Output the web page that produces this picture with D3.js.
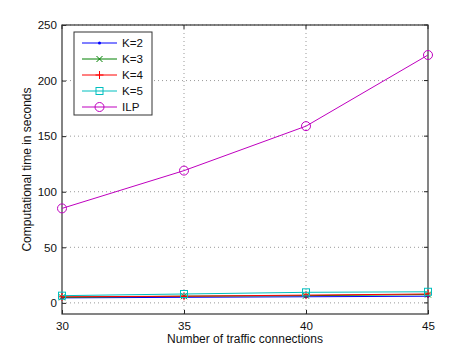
<!DOCTYPE html>
<html><head><meta charset="utf-8">
<script src="https://cdn.jsdelivr.net/npm/d3@7"></script>
<style>body{margin:0;background:#fff}svg{display:block}text{font-family:"Liberation Sans",Arial,sans-serif}</style>
</head><body><svg id="c" width="474" height="355"></svg>
<script>
const xValues = [30, 35, 40, 45];
const k2 = [4.5, 5, 5.5, 6];
const k3 = [5, 6, 6.5, 7.5];
const k4 = [5.5, 6, 7, 8];
const k5 = [6.5, 8, 9.5, 10];
const ilp = [85, 119, 159, 223];
const seriesNames = ["K=2", "K=3", "K=4", "K=5", "ILP"];
const xTicks = [30, 35, 40, 45];
const yTicks = [0, 50, 100, 150, 200, 250];

const series = [
  {name: seriesNames[0], values: k2, color: "#0000ff", marker: "dot"},
  {name: seriesNames[1], values: k3, color: "#008000", marker: "x"},
  {name: seriesNames[2], values: k4, color: "#ff0000", marker: "plus"},
  {name: seriesNames[3], values: k5, color: "#00bfbf", marker: "square"},
  {name: seriesNames[4], values: ilp, color: "#bf00bf", marker: "circle"}
];

const FS = 11.6;
const svg = d3.select("#c");
const L = 62, R = 428, T = 25, B = 314;
const x = d3.scaleLinear().domain([30, 45]).range([L, R]);
const y = d3.scaleLinear().domain([-10, 250]).range([B, T]);

// grid
const g = svg.append("g");
g.selectAll(".gx").data(xTicks.slice(1, -1)).enter().append("line")
  .attr("x1", d => x(d)).attr("x2", d => x(d)).attr("y1", T).attr("y2", B)
  .attr("stroke", "#555").attr("stroke-width", 0.6).attr("stroke-dasharray", "1,3");
g.selectAll(".gy").data(yTicks).enter().append("line")
  .attr("y1", d => y(d)).attr("y2", d => y(d)).attr("x1", L).attr("x2", R)
  .attr("stroke", "#555").attr("stroke-width", 0.6).attr("stroke-dasharray", "1,3");

// axes
const xAxis = d3.axisBottom(x).tickValues(xTicks).tickSize(-4).tickPadding(8).tickFormat(d3.format("d"));
const yAxis = d3.axisLeft(y).tickValues(yTicks).tickSize(-4).tickPadding(5).tickFormat(d3.format("d"));
const xa = svg.append("g").attr("transform", `translate(0,${B})`).call(xAxis);
const ya = svg.append("g").attr("transform", `translate(${L},0)`).call(yAxis);
[xa, ya].forEach(a => {
  a.select(".domain").remove();
  a.selectAll("line").attr("stroke", "#222");
  a.selectAll("text").attr("font-size", FS).attr("fill", "#111");
});
// top/right ticks
svg.append("g").selectAll("line").data(xTicks).enter().append("line")
  .attr("x1", d => x(d)).attr("x2", d => x(d)).attr("y1", T).attr("y2", T + 4).attr("stroke", "#222");
svg.append("g").selectAll("line").data(yTicks).enter().append("line")
  .attr("y1", d => y(d)).attr("y2", d => y(d)).attr("x1", R).attr("x2", R - 4).attr("stroke", "#222");
svg.append("rect").attr("x", L).attr("y", T).attr("width", R - L).attr("height", B - T)
  .attr("fill", "none").attr("stroke", "#333").attr("stroke-width", 1.2);

function drawMarker(sel, type, cx, cy, color) {
  if (type === "dot") sel.append("circle").attr("cx", cx).attr("cy", cy).attr("r", 1.5).attr("fill", color);
  else if (type === "x") sel.append("path").attr("d", `M${cx-3},${cy-3}L${cx+3},${cy+3}M${cx-3},${cy+3}L${cx+3},${cy-3}`).attr("stroke", color).attr("fill", "none");
  else if (type === "plus") sel.append("path").attr("d", `M${cx-4},${cy}L${cx+4},${cy}M${cx},${cy-4}L${cx},${cy+4}`).attr("stroke", color).attr("fill", "none");
  else if (type === "square") sel.append("rect").attr("x", cx - 3.5).attr("y", cy - 3.5).attr("width", 7).attr("height", 7).attr("stroke", color).attr("fill", "none");
  else if (type === "circle") sel.append("circle").attr("cx", cx).attr("cy", cy).attr("r", 4.5).attr("stroke", color).attr("fill", "none");
}

const line = d3.line().x((d, i) => x(xValues[i])).y(d => y(d));
series.forEach(s => {
  const sg = svg.append("g");
  sg.append("path").datum(s.values).attr("d", line).attr("fill", "none").attr("stroke", s.color).attr("stroke-width", 1);
  s.values.forEach((v, i) => drawMarker(sg, s.marker, x(xValues[i]), y(v), s.color));
});

// legend
const lg = svg.append("g");
lg.append("rect").attr("x", 74).attr("y", 32).attr("width", 78).attr("height", 83)
  .attr("fill", "#fff").attr("stroke", "#333").attr("stroke-width", 1);
series.forEach((s, i) => {
  const ly = 43 + i * 16;
  lg.append("line").attr("x1", 82).attr("x2", 117).attr("y1", ly).attr("y2", ly).attr("stroke", s.color);
  drawMarker(lg, s.marker, 99.5, ly, s.color);
  lg.append("text").attr("x", 122).attr("y", ly + 4).attr("font-size", FS).attr("fill", "#111").text(s.name);
});

// labels
svg.append("text").attr("x", (L + R) / 2).attr("y", 343).attr("text-anchor", "middle").attr("font-size", FS + 0.4).attr("fill", "#111").text("Number of traffic connections");
svg.append("text").attr("transform", `translate(31,${(T + B) / 2}) rotate(-90)`).attr("text-anchor", "middle").attr("font-size", FS + 0.4).attr("fill", "#111").text("Computational time in seconds");
</script></body></html>
